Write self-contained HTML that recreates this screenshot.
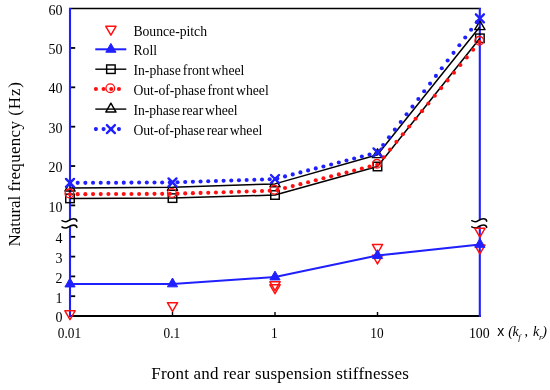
<!DOCTYPE html><html><head><meta charset="utf-8"><title>Natural frequency chart</title>
<style>html,body{margin:0;padding:0;background:#fff}svg{display:block}text{font-family:"Liberation Serif","Times New Roman",serif;fill:#000;white-space:pre}</style></head><body>
<svg width="550" height="390" viewBox="0 0 550 390">
<rect width="550" height="390" fill="#fff"/>
<g fill="none" stroke-linecap="butt">
<path d="M69.0 8.6H480.8" stroke="#000" stroke-width="1.5"/>
<path d="M69.0 316.0H480.8" stroke="#000" stroke-width="1.9"/>
<path d="M70.0 7.8999999999999995V220.3M70.0 226.6V316.9" stroke="#2020ff" stroke-width="2.1"/>
<path d="M479.8 7.8999999999999995V220.0M479.8 226.4V316.9" stroke="#2020ff" stroke-width="2.1"/>
<path d="M71.0 47.96H75.2" stroke="#000" stroke-width="1.8"/>
<path d="M71.0 87.32H75.2" stroke="#000" stroke-width="1.8"/>
<path d="M71.0 126.68H75.2" stroke="#000" stroke-width="1.8"/>
<path d="M71.0 166.04H75.2" stroke="#000" stroke-width="1.8"/>
<path d="M71.0 205.40H75.2" stroke="#000" stroke-width="1.8"/>
<path d="M71.0 296.20H75.2" stroke="#000" stroke-width="1.8"/>
<path d="M71.0 276.40H75.2" stroke="#000" stroke-width="1.8"/>
<path d="M71.0 256.60H75.2" stroke="#000" stroke-width="1.8"/>
<path d="M71.0 236.80H75.2" stroke="#000" stroke-width="1.8"/>
<path d="M172.5 316.0V312.0" stroke="#000" stroke-width="1.4"/>
<path d="M275.0 316.0V312.0" stroke="#000" stroke-width="1.4"/>
<path d="M377.5 316.0V312.0" stroke="#000" stroke-width="1.4"/>
</g>
<path transform="translate(70.3 220.6)" d="M-8.3 0.1C-6.5 1.15 -3.6 1.3 -1.8 0.05S0.8 -1.8 3.3 -1.8S6.4 -0.9 6.6 0.55" fill="none" stroke="#000" stroke-width="1.55" stroke-linecap="round" stroke-linejoin="round"/>
<path transform="translate(70.3 226.9)" d="M-8.3 0.1C-6.5 1.15 -3.6 1.3 -1.8 0.05S0.8 -1.8 3.3 -1.8S6.4 -0.9 6.6 0.55" fill="none" stroke="#000" stroke-width="1.55" stroke-linecap="round" stroke-linejoin="round"/>
<path transform="translate(480.1 220.6)" d="M-8.3 0.1C-6.5 1.15 -3.6 1.3 -1.8 0.05S0.8 -1.8 3.3 -1.8S6.4 -0.9 6.6 0.55" fill="none" stroke="#000" stroke-width="1.55" stroke-linecap="round" stroke-linejoin="round"/>
<path transform="translate(480.1 226.8)" d="M-8.3 0.1C-6.5 1.15 -3.6 1.3 -1.8 0.05S0.8 -1.8 3.3 -1.8S6.4 -0.9 6.6 0.55" fill="none" stroke="#000" stroke-width="1.55" stroke-linecap="round" stroke-linejoin="round"/>
<text x="62.6" y="14.50" font-size="14" text-anchor="end">60</text>
<text x="62.6" y="53.90" font-size="14" text-anchor="end">50</text>
<text x="62.6" y="93.30" font-size="14" text-anchor="end">40</text>
<text x="62.6" y="132.70" font-size="14" text-anchor="end">30</text>
<text x="62.6" y="172.10" font-size="14" text-anchor="end">20</text>
<text x="62.6" y="211.50" font-size="14" text-anchor="end">10</text>
<text x="62.6" y="322.40" font-size="14" text-anchor="end">0</text>
<text x="62.6" y="302.60" font-size="14" text-anchor="end">1</text>
<text x="62.6" y="282.80" font-size="14" text-anchor="end">2</text>
<text x="62.6" y="263.00" font-size="14" text-anchor="end">3</text>
<text x="62.6" y="243.20" font-size="14" text-anchor="end">4</text>
<text x="69.4" y="337.7" font-size="14" text-anchor="middle" textLength="23.3" lengthAdjust="spacingAndGlyphs">0.01</text>
<text x="171.9" y="337.7" font-size="14" text-anchor="middle" textLength="16.6" lengthAdjust="spacingAndGlyphs">0.1</text>
<text x="274.4" y="337.7" font-size="14" text-anchor="middle" textLength="6.65" lengthAdjust="spacingAndGlyphs">1</text>
<text x="376.9" y="337.7" font-size="14" text-anchor="middle" textLength="13.3" lengthAdjust="spacingAndGlyphs">10</text>
<text x="479.29999999999995" y="337.7" font-size="14" text-anchor="middle" textLength="20.8" lengthAdjust="spacingAndGlyphs">100</text>
<text y="336.3" font-size="14" font-style="italic"><tspan x="497.3" font-style="normal" font-family="Liberation Sans,Arial,sans-serif">x</tspan><tspan x="508.3">(</tspan><tspan x="512.4">k</tspan><tspan x="518.2" font-size="8.8" dy="3.2">f</tspan><tspan x="524.6" dy="-3.2" font-style="normal">,</tspan><tspan x="532.9">k</tspan><tspan x="539.0" font-size="8.8" dy="3.2">r</tspan><tspan x="542.3" dy="-3.2">)</tspan></text>
<text x="151.2" y="379.1" font-size="17" textLength="257.6" lengthAdjust="spacing">Front and rear suspension stiffnesses</text>
<g transform="translate(19.8 245.9) rotate(-90)" font-size="17"><text x="-0.6" textLength="50.85" lengthAdjust="spacing">Natural</text><text x="54.5" textLength="70.3" lengthAdjust="spacing">frequency</text><text x="130.1" textLength="33.8" lengthAdjust="spacing">(Hz)</text></g>
<path d="M70.00 198.40L172.50 198.10L275.00 195.00L377.50 166.50L479.90 38.30" fill="none" stroke="#000" stroke-width="1.5" stroke-linejoin="round"/>
<rect x="65.75" y="194.15" width="8.5" height="8.5" fill="none" stroke="#000" stroke-width="1.45"/>
<rect x="168.25" y="193.85" width="8.5" height="8.5" fill="none" stroke="#000" stroke-width="1.45"/>
<rect x="270.75" y="190.75" width="8.5" height="8.5" fill="none" stroke="#000" stroke-width="1.45"/>
<rect x="373.25" y="162.25" width="8.5" height="8.5" fill="none" stroke="#000" stroke-width="1.45"/>
<rect x="475.65" y="34.05" width="8.5" height="8.5" fill="none" stroke="#000" stroke-width="1.45"/>
<path d="M70.00 188.10L172.50 187.30L275.00 183.90L377.50 154.70L479.90 26.70" fill="none" stroke="#000" stroke-width="1.5" stroke-linejoin="round"/>
<path d="M70.00 182.21L75.10 191.04H64.90Z" fill="none" stroke="#000" stroke-width="1.45" stroke-linejoin="round"/>
<path d="M172.50 181.41L177.60 190.24H167.40Z" fill="none" stroke="#000" stroke-width="1.45" stroke-linejoin="round"/>
<path d="M275.00 178.01L280.10 186.84H269.90Z" fill="none" stroke="#000" stroke-width="1.45" stroke-linejoin="round"/>
<path d="M377.50 148.81L382.60 157.64H372.40Z" fill="none" stroke="#000" stroke-width="1.45" stroke-linejoin="round"/>
<path d="M479.90 20.81L485.00 29.64H474.80Z" fill="none" stroke="#000" stroke-width="1.45" stroke-linejoin="round"/>
<g fill="#ff1010"><circle cx="70.00" cy="194.20" r="2.05"/><circle cx="77.68" cy="194.17" r="2.05"/><circle cx="85.36" cy="194.14" r="2.05"/><circle cx="93.04" cy="194.11" r="2.05"/><circle cx="100.72" cy="194.08" r="2.05"/><circle cx="108.40" cy="194.05" r="2.05"/><circle cx="116.08" cy="194.02" r="2.05"/><circle cx="123.76" cy="193.99" r="2.05"/><circle cx="131.44" cy="193.96" r="2.05"/><circle cx="139.12" cy="193.93" r="2.05"/><circle cx="146.80" cy="193.90" r="2.05"/><circle cx="154.48" cy="193.87" r="2.05"/><circle cx="162.16" cy="193.84" r="2.05"/><circle cx="169.84" cy="193.81" r="2.05"/><circle cx="177.52" cy="193.64" r="2.05"/><circle cx="185.20" cy="193.40" r="2.05"/><circle cx="192.88" cy="193.16" r="2.05"/><circle cx="200.56" cy="192.92" r="2.05"/><circle cx="208.24" cy="192.68" r="2.05"/><circle cx="215.92" cy="192.44" r="2.05"/><circle cx="223.60" cy="192.20" r="2.05"/><circle cx="231.28" cy="191.96" r="2.05"/><circle cx="238.96" cy="191.73" r="2.05"/><circle cx="246.64" cy="191.49" r="2.05"/><circle cx="254.32" cy="191.25" r="2.05"/><circle cx="262.00" cy="191.01" r="2.05"/><circle cx="269.68" cy="190.77" r="2.05"/><circle cx="277.36" cy="190.00" r="2.05"/><circle cx="285.04" cy="188.05" r="2.05"/><circle cx="292.72" cy="186.11" r="2.05"/><circle cx="300.40" cy="184.16" r="2.05"/><circle cx="308.08" cy="182.21" r="2.05"/><circle cx="315.76" cy="180.26" r="2.05"/><circle cx="323.44" cy="178.31" r="2.05"/><circle cx="331.12" cy="176.36" r="2.05"/><circle cx="338.80" cy="174.42" r="2.05"/><circle cx="346.48" cy="172.47" r="2.05"/><circle cx="354.16" cy="170.52" r="2.05"/><circle cx="361.84" cy="168.57" r="2.05"/><circle cx="369.52" cy="166.62" r="2.05"/><circle cx="377.20" cy="164.68" r="2.05"/><circle cx="383.64" cy="157.22" r="2.05"/><circle cx="390.04" cy="149.54" r="2.05"/><circle cx="396.43" cy="141.86" r="2.05"/><circle cx="402.83" cy="134.18" r="2.05"/><circle cx="409.22" cy="126.50" r="2.05"/><circle cx="415.61" cy="118.82" r="2.05"/><circle cx="422.01" cy="111.14" r="2.05"/><circle cx="428.40" cy="103.46" r="2.05"/><circle cx="434.79" cy="95.78" r="2.05"/><circle cx="441.19" cy="88.10" r="2.05"/><circle cx="447.58" cy="80.42" r="2.05"/><circle cx="453.98" cy="72.74" r="2.05"/><circle cx="460.37" cy="65.06" r="2.05"/><circle cx="466.76" cy="57.38" r="2.05"/><circle cx="473.16" cy="49.70" r="2.05"/><circle cx="479.55" cy="42.02" r="2.05"/></g>
<circle cx="69.40" cy="193.40" r="4.35" fill="none" stroke="#ff1010" stroke-width="1.35"/>
<circle cx="171.90" cy="193.00" r="4.35" fill="none" stroke="#ff1010" stroke-width="1.35"/>
<circle cx="274.40" cy="189.80" r="4.35" fill="none" stroke="#ff1010" stroke-width="1.35"/>
<circle cx="376.90" cy="163.80" r="4.35" fill="none" stroke="#ff1010" stroke-width="1.35"/>
<circle cx="479.30" cy="40.80" r="4.35" fill="none" stroke="#ff1010" stroke-width="1.35"/>
<g fill="#2020ff"><circle cx="70.00" cy="182.90" r="2.05"/><circle cx="77.68" cy="182.86" r="2.05"/><circle cx="85.36" cy="182.83" r="2.05"/><circle cx="93.04" cy="182.79" r="2.05"/><circle cx="100.72" cy="182.75" r="2.05"/><circle cx="108.40" cy="182.71" r="2.05"/><circle cx="116.08" cy="182.68" r="2.05"/><circle cx="123.76" cy="182.64" r="2.05"/><circle cx="131.44" cy="182.60" r="2.05"/><circle cx="139.12" cy="182.56" r="2.05"/><circle cx="146.80" cy="182.53" r="2.05"/><circle cx="154.48" cy="182.49" r="2.05"/><circle cx="162.16" cy="182.45" r="2.05"/><circle cx="169.84" cy="182.41" r="2.05"/><circle cx="177.52" cy="182.23" r="2.05"/><circle cx="185.20" cy="181.98" r="2.05"/><circle cx="192.88" cy="181.72" r="2.05"/><circle cx="200.56" cy="181.47" r="2.05"/><circle cx="208.24" cy="181.21" r="2.05"/><circle cx="215.92" cy="180.96" r="2.05"/><circle cx="223.60" cy="180.70" r="2.05"/><circle cx="231.28" cy="180.45" r="2.05"/><circle cx="238.96" cy="180.20" r="2.05"/><circle cx="246.64" cy="179.94" r="2.05"/><circle cx="254.32" cy="179.69" r="2.05"/><circle cx="262.00" cy="179.43" r="2.05"/><circle cx="269.68" cy="179.18" r="2.05"/><circle cx="277.36" cy="178.39" r="2.05"/><circle cx="285.04" cy="176.39" r="2.05"/><circle cx="292.72" cy="174.40" r="2.05"/><circle cx="300.40" cy="172.41" r="2.05"/><circle cx="308.08" cy="170.42" r="2.05"/><circle cx="315.76" cy="168.42" r="2.05"/><circle cx="323.44" cy="166.43" r="2.05"/><circle cx="331.12" cy="164.44" r="2.05"/><circle cx="338.80" cy="162.44" r="2.05"/><circle cx="346.48" cy="160.45" r="2.05"/><circle cx="354.16" cy="158.46" r="2.05"/><circle cx="361.84" cy="156.46" r="2.05"/><circle cx="369.52" cy="154.47" r="2.05"/><circle cx="377.20" cy="152.48" r="2.05"/><circle cx="383.14" cy="145.02" r="2.05"/><circle cx="389.00" cy="137.34" r="2.05"/><circle cx="394.86" cy="129.66" r="2.05"/><circle cx="400.73" cy="121.98" r="2.05"/><circle cx="406.59" cy="114.30" r="2.05"/><circle cx="412.46" cy="106.62" r="2.05"/><circle cx="418.32" cy="98.94" r="2.05"/><circle cx="424.19" cy="91.26" r="2.05"/><circle cx="430.05" cy="83.58" r="2.05"/><circle cx="435.92" cy="75.90" r="2.05"/><circle cx="441.78" cy="68.22" r="2.05"/><circle cx="447.65" cy="60.54" r="2.05"/><circle cx="453.51" cy="52.86" r="2.05"/><circle cx="459.37" cy="45.18" r="2.05"/><circle cx="465.24" cy="37.50" r="2.05"/><circle cx="471.10" cy="29.82" r="2.05"/><circle cx="476.97" cy="22.14" r="2.05"/></g>
<path d="M66.00 178.90L74.00 186.90M66.00 186.90L74.00 178.90" stroke="#2020ff" stroke-width="2.4" stroke-linecap="round" fill="none"/>
<path d="M168.50 178.40L176.50 186.40M168.50 186.40L176.50 178.40" stroke="#2020ff" stroke-width="2.4" stroke-linecap="round" fill="none"/>
<path d="M271.00 175.00L279.00 183.00M271.00 183.00L279.00 175.00" stroke="#2020ff" stroke-width="2.4" stroke-linecap="round" fill="none"/>
<path d="M373.50 148.40L381.50 156.40M373.50 156.40L381.50 148.40" stroke="#2020ff" stroke-width="2.4" stroke-linecap="round" fill="none"/>
<path d="M475.90 14.30L483.90 22.30M475.90 22.30L483.90 14.30" stroke="#2020ff" stroke-width="2.4" stroke-linecap="round" fill="none"/>
<path d="M70.00 319.59L75.10 310.76H64.90Z" fill="none" stroke="#ff1010" stroke-width="1.5" stroke-linejoin="round"/>
<path d="M172.50 311.49L177.60 302.66H167.40Z" fill="none" stroke="#ff1010" stroke-width="1.5" stroke-linejoin="round"/>
<path d="M275.00 290.59L280.10 281.76H269.90Z" fill="none" stroke="#ff1010" stroke-width="1.5" stroke-linejoin="round"/>
<path d="M275.00 293.59L280.10 284.76H269.90Z" fill="none" stroke="#ff1010" stroke-width="1.5" stroke-linejoin="round"/>
<path d="M377.50 253.29L382.60 244.46H372.40Z" fill="none" stroke="#ff1010" stroke-width="1.5" stroke-linejoin="round"/>
<path d="M377.50 263.99L382.60 255.16H372.40Z" fill="none" stroke="#ff1010" stroke-width="1.5" stroke-linejoin="round"/>
<path d="M479.90 237.09L485.00 228.26H474.80Z" fill="none" stroke="#ff1010" stroke-width="1.5" stroke-linejoin="round"/>
<path d="M479.90 253.89L485.00 245.06H474.80Z" fill="none" stroke="#ff1010" stroke-width="1.5" stroke-linejoin="round"/>
<path d="M70.00 284.00L172.50 283.90L275.00 277.00L377.50 255.60L479.90 244.40" fill="none" stroke="#2020ff" stroke-width="2" stroke-linejoin="round"/>
<path d="M70.00 278.11L75.10 286.94H64.90Z" fill="#2020ff" stroke="#2020ff" stroke-width="1.0" stroke-linejoin="round"/>
<path d="M172.50 278.01L177.60 286.84H167.40Z" fill="#2020ff" stroke="#2020ff" stroke-width="1.0" stroke-linejoin="round"/>
<path d="M275.00 271.11L280.10 279.94H269.90Z" fill="#2020ff" stroke="#2020ff" stroke-width="1.0" stroke-linejoin="round"/>
<path d="M377.50 249.71L382.60 258.54H372.40Z" fill="#2020ff" stroke="#2020ff" stroke-width="1.0" stroke-linejoin="round"/>
<path d="M479.90 238.51L485.00 247.34H474.80Z" fill="#2020ff" stroke="#2020ff" stroke-width="1.0" stroke-linejoin="round"/>
<path d="M110.90 35.19L116.00 26.36H105.80Z" fill="none" stroke="#ff1010" stroke-width="1.5" stroke-linejoin="round"/>
<path d="M95.3 49.3H126.3" stroke="#2020ff" stroke-width="2"/>
<path d="M110.90 43.41L116.00 52.24H105.80Z" fill="#2020ff" stroke="#2020ff" stroke-width="1.0" stroke-linejoin="round"/>
<path d="M95.3 69.2H126.3" stroke="#000" stroke-width="1.4"/>
<rect x="106.65" y="64.95" width="8.5" height="8.5" fill="none" stroke="#000" stroke-width="1.45"/>
<g fill="#ff1010"><circle cx="95.90" cy="89.00" r="2.05"/><circle cx="103.58" cy="89.00" r="2.05"/><circle cx="111.26" cy="89.00" r="2.05"/><circle cx="118.94" cy="89.00" r="2.05"/></g>
<circle cx="110.30" cy="88.20" r="4.35" fill="none" stroke="#ff1010" stroke-width="1.35"/>
<path d="M95.3 109.1H126.3" stroke="#000" stroke-width="1.4"/>
<path d="M110.90 103.21L116.00 112.04H105.80Z" fill="none" stroke="#000" stroke-width="1.45" stroke-linejoin="round"/>
<g fill="#2020ff"><circle cx="95.90" cy="129.10" r="2.05"/><circle cx="103.58" cy="129.10" r="2.05"/><circle cx="111.26" cy="129.10" r="2.05"/><circle cx="118.94" cy="129.10" r="2.05"/></g>
<path d="M106.90 125.10L114.90 133.10M106.90 133.10L114.90 125.10" stroke="#2020ff" stroke-width="2.4" stroke-linecap="round" fill="none"/>
<text x="133.4" y="35.5" font-size="13.7" word-spacing="-1.4" textLength="73.6" lengthAdjust="spacing">Bounce-pitch</text>
<text x="133.4" y="54.7" font-size="13.7" word-spacing="-1.4" textLength="23.6" lengthAdjust="spacing">Roll</text>
<text x="133.4" y="75.0" font-size="13.7" word-spacing="-1.4" textLength="111.0" lengthAdjust="spacing">In-phase front wheel</text>
<text x="133.4" y="94.8" font-size="13.7" word-spacing="-1.4" textLength="135.3" lengthAdjust="spacing">Out-of-phase front wheel</text>
<text x="133.4" y="114.7" font-size="13.7" word-spacing="-1.4" textLength="104.2" lengthAdjust="spacing">In-phase rear wheel</text>
<text x="133.4" y="134.5" font-size="13.7" word-spacing="-1.4" textLength="128.8" lengthAdjust="spacing">Out-of-phase rear wheel</text>
</svg></body></html>
